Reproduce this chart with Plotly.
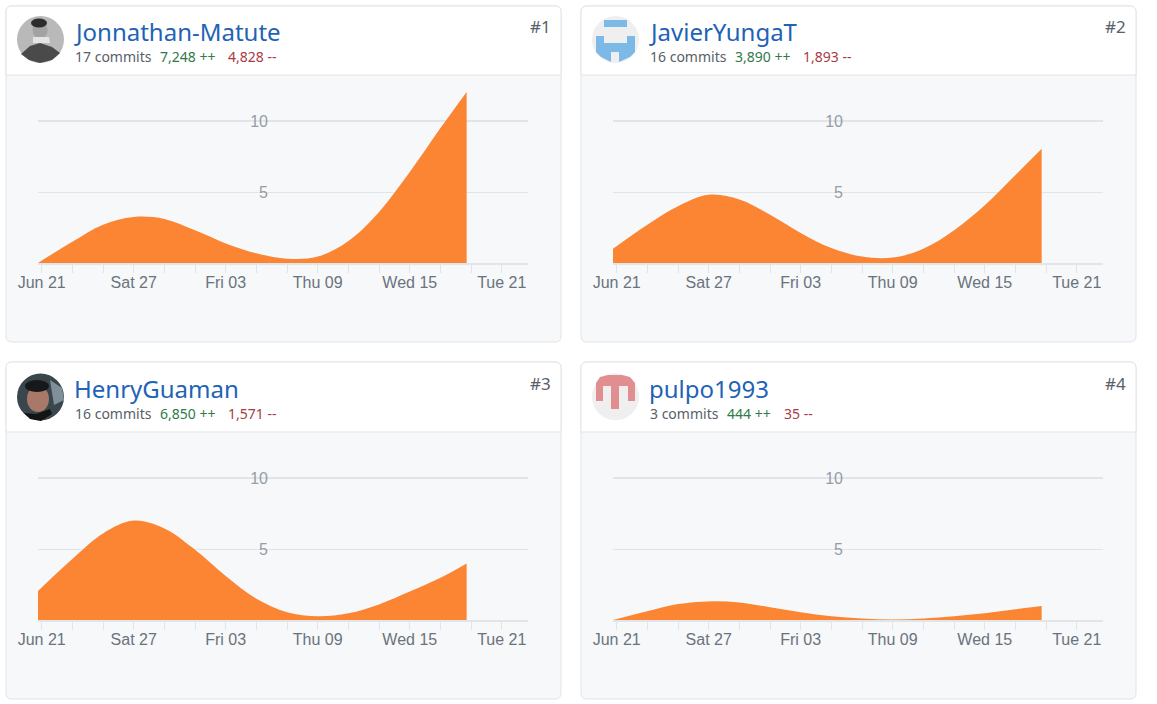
import plotly.graph_objects as go

W, H = 1157, 704

# ---- data ----
dates = ["2020-06-20 18:00", "2020-06-23", "2020-06-25", "2020-06-27", "2020-06-29", "2020-07-01", "2020-07-03",
         "2020-07-05", "2020-07-07", "2020-07-09", "2020-07-11", "2020-07-13", "2020-07-15", "2020-07-17", "2020-07-18 17:00"]
jonnathan = [0, 1.5, 2.7, 3.24, 3.1, 2.3, 1.38, 0.68, 0.3, 0.45, 1.55, 3.6, 6.4, 9.5, 12.05]
javier = [1.0, 2.7, 4.0, 4.8, 4.48, 3.4, 2.12, 1.05, 0.45, 0.38, 1.0, 2.3, 4.06, 6.2, 8.05]
henry = [2.04, 4.3, 6.1, 7.0, 6.45, 4.95, 3.1, 1.5, 0.55, 0.26, 0.47, 1.1, 2.0, 2.97, 3.98]
pulpo = [0, 0.62, 1.12, 1.31, 1.24, 0.9, 0.55, 0.26, 0.1, 0.03, 0.1, 0.26, 0.47, 0.75, 0.98]

names = ["Jonnathan-Matute", "JavierYungaT", "HenryGuaman", "pulpo1993"]
commits = ["17 commits", "16 commits", "16 commits", "3 commits"]
added = ["7,248 ++", "3,890 ++", "6,850 ++", "444 ++"]
removed = ["4,828 --", "1,893 --", "1,571 --", "35 --"]
ranks = ["#1", "#2", "#3", "#4"]
series = [jonnathan, javier, henry, pulpo]

tick_dates = ["2020-06-21", "2020-06-23", "2020-06-25", "2020-06-27", "2020-06-29", "2020-07-01", "2020-07-03", "2020-07-05",
              "2020-07-07", "2020-07-09", "2020-07-11", "2020-07-13", "2020-07-15", "2020-07-17", "2020-07-19", "2020-07-21"]
tick_labels = ["Jun 21", "", "", "Sat 27", "", "", "Fri 03", "", "", "Thu 09", "", "", "Wed 15", "", "", "Tue 21"]
y_ticks = [5, 10]

# ---- colours ----
ORANGE = "#fb8532"
BORDER = "#e1e4e8"
PANEL = "#f6f8fa"
LINK = "#1f63b5"
GREY = "#586069"
AXIS_TXT = "#6a737d"
Y_TXT = "#959da5"
GREEN = "#2f7a48"
RED = "#a83a42"
BODY = "Noto Sans, Open Sans, sans-serif"
CHART = "Liberation Sans, Arial, sans-serif"

# left edge, top of the card, for each card
cards = [(6, 6), (581, 6), (6, 362), (581, 362)]
sub_x = [(73, 158, 226), (648, 733, 801), (73, 158, 226), (648, 725, 782)]


def fx(x):
    return x / W


def fy(y):
    return 1 - y / H


def rounded(x0, y0, x1, y1, tl=6, tr=6, br=6, bl=6):
    p = f"M {fx(x0 + tl)} {fy(y0)} L {fx(x1 - tr)} {fy(y0)} Q {fx(x1)} {fy(y0)} {fx(x1)} {fy(y0 + tr)} "
    p += f"L {fx(x1)} {fy(y1 - br)} Q {fx(x1)} {fy(y1)} {fx(x1 - br)} {fy(y1)} "
    p += f"L {fx(x0 + bl)} {fy(y1)} Q {fx(x0)} {fy(y1)} {fx(x0)} {fy(y1 - bl)} "
    p += f"L {fx(x0)} {fy(y0 + tl)} Q {fx(x0)} {fy(y0)} {fx(x0 + tl)} {fy(y0)} Z"
    return p


def poly(points):
    return "M " + " L ".join(f"{fx(a)} {fy(b)}" for a, b in points) + " Z"


def circle(cx, cy, rx, ry, color):
    return dict(type="circle", xref="paper", yref="paper", x0=fx(cx - rx), x1=fx(cx + rx),
                y0=fy(cy + ry), y1=fy(cy - ry), fillcolor=color, line_width=0, layer="above")


def path(p, color, layer="above", line=None):
    return dict(type="path", xref="paper", yref="paper", path=p, fillcolor=color, layer=layer,
                line=dict(color=line or color, width=1 if line else 0))


fig = go.Figure()
shapes, notes = [], []
layout = {}

for i, (cx, cy) in enumerate(cards):
    n = i + 1
    tag = "" if n == 1 else str(n)
    card_h = 336 if i < 2 else 337
    x0, x1 = cx + 32, cx + 522
    base = cy + 257 if i < 2 else cy + 258
    top = base - 12.5 * 14.2
    fig.add_trace(go.Scatter(x=dates, y=series[i], mode="lines", fill="tozeroy", fillcolor=ORANGE,
                             line=dict(color=ORANGE, width=0, shape="spline", smoothing=1),
                             hoverinfo="skip", showlegend=False, xaxis=f"x{tag}", yaxis=f"y{tag}"))
    layout[f"xaxis{tag}"] = dict(domain=[fx(x0), fx(x1)], anchor=f"y{tag}", automargin=False,
                                 range=["2020-06-20 18:15", "2020-07-22 17:00"], type="date",
                                 tickmode="array", tickvals=tick_dates, ticktext=tick_labels,
                                 ticks="outside", ticklen=8, tickcolor=BORDER, tickwidth=1, ticklabelstandoff=-4,
                                 showline=True, linecolor=BORDER, linewidth=2, showgrid=False, zeroline=False,
                                 tickfont=dict(family=CHART, size=16, color=AXIS_TXT))
    layout[f"yaxis{tag}"] = dict(domain=[fy(base), fy(top)], anchor="free", position=fx(cx + 262), automargin=False,
                                 range=[0, 12.5], tickmode="array", tickvals=y_ticks,
                                 ticktext=[str(v) for v in y_ticks],
                                 showgrid=True, gridcolor=BORDER, gridwidth=1, zeroline=False, showline=False,
                                 ticks="", tickfont=dict(family=CHART, size=16, color=Y_TXT))
    # card
    shapes.append(path(rounded(cx, cy, cx + 555, cy + card_h), PANEL, "below", BORDER))
    head = 69 if i < 2 else 70
    shapes.append(path(rounded(cx, cy, cx + 555, cy + head, br=0, bl=0), "#ffffff", "below", BORDER))
    # the upper gridline reads heavier than the lower one
    shapes.append(dict(type="line", xref=f"x{tag} domain", yref=f"y{tag}", x0=0, x1=1,
                       y0=y_ticks[-1], y1=y_ticks[-1], line=dict(color=BORDER, width=2), layer="below"))
    # text
    ax, ay = cx + 66, cy + 26
    notes.append(dict(x=fx(ax), y=fy(ay), text=names[i], font=dict(family=BODY, size=24, color=LINK)))
    a, b, c = sub_x[i]
    sy = cy + 51
    notes.append(dict(x=fx(a), y=fy(sy), text=commits[i], font=dict(family=BODY, size=14, color=GREY)))
    notes.append(dict(x=fx(b), y=fy(sy), text=added[i], font=dict(family=BODY, size=14, color=GREEN)))
    notes.append(dict(x=fx(c), y=fy(sy), text=removed[i], font=dict(family=BODY, size=14, color=RED)))
    notes.append(dict(x=fx(cx + 547), y=fy(cy + 21), text=ranks[i], xanchor="right",
                      font=dict(family=BODY, size=17, color=GREY)))

# avatar 1: grey photo
shapes += [
    circle(40.5, 39.5, 23.5, 23.5, "#b9b9b9"),
    path(poly([(21, 54), (30, 46), (40, 43), (52, 47), (60, 53), (52, 60), (40, 63), (29, 60)]), "#4a4a4a"),
    circle(40, 30, 7.5, 9, "#a3a3a3"),
    circle(39, 23, 8, 4.5, "#2c2c2c"),
    path(poly([(33, 37), (49, 37), (50, 43), (33, 43)]), "#e4e4e4"),
]
# avatar 2: blue identicon
shapes += [
    circle(615.5, 39.5, 23.5, 23.5, "#efefef"),
    path(poly([(604, 20), (627, 20), (627, 27), (604, 27)]), "#7db9e6"),
    path(poly([(596, 36), (604, 36), (604, 43), (627, 43), (627, 36), (635, 36), (635, 52), (630, 57),
               (619, 62), (619, 52), (611, 52), (611, 62), (601, 57), (596, 52)]), "#7db9e6"),
]
# avatar 3: dark photo
shapes += [
    circle(40.5, 397, 23.5, 23.5, "#39464c"),
    path(poly([(50, 380), (62, 388), (64, 400), (54, 405)]), "#7f9098"),
    circle(38, 399, 11, 13, "#a87868"),
    circle(37, 386, 12, 6, "#16181a"),
    path(poly([(24, 413), (36, 414), (50, 409), (52, 414), (41, 421), (30, 419)]), "#141414"),
]
# avatar 4: red identicon
shapes += [
    circle(615.5, 396.7, 23.5, 23.5, "#efefef"),
    path(poly([(596, 401), (596, 383), (600, 377), (608, 375), (622, 375), (630, 377), (635, 383), (635, 401),
               (628, 401), (628, 386), (619, 386), (619, 409), (611, 409), (611, 386), (603, 386), (603, 401)]),
         "#e08e90"),
]

for a in notes:
    a.update(xref="paper", yref="paper", showarrow=False, xanchor=a.get("xanchor", "left"), yanchor="middle")

fig.update_layout(width=W, height=H, margin=dict(l=0, r=0, t=0, b=0, autoexpand=False), paper_bgcolor="#ffffff",
                  plot_bgcolor="rgba(0,0,0,0)", shapes=shapes, annotations=notes, showlegend=False, **layout)
fig.write_html("out.html", config=dict(displayModeBar=False), post_script="document.body.style.margin='0';")
